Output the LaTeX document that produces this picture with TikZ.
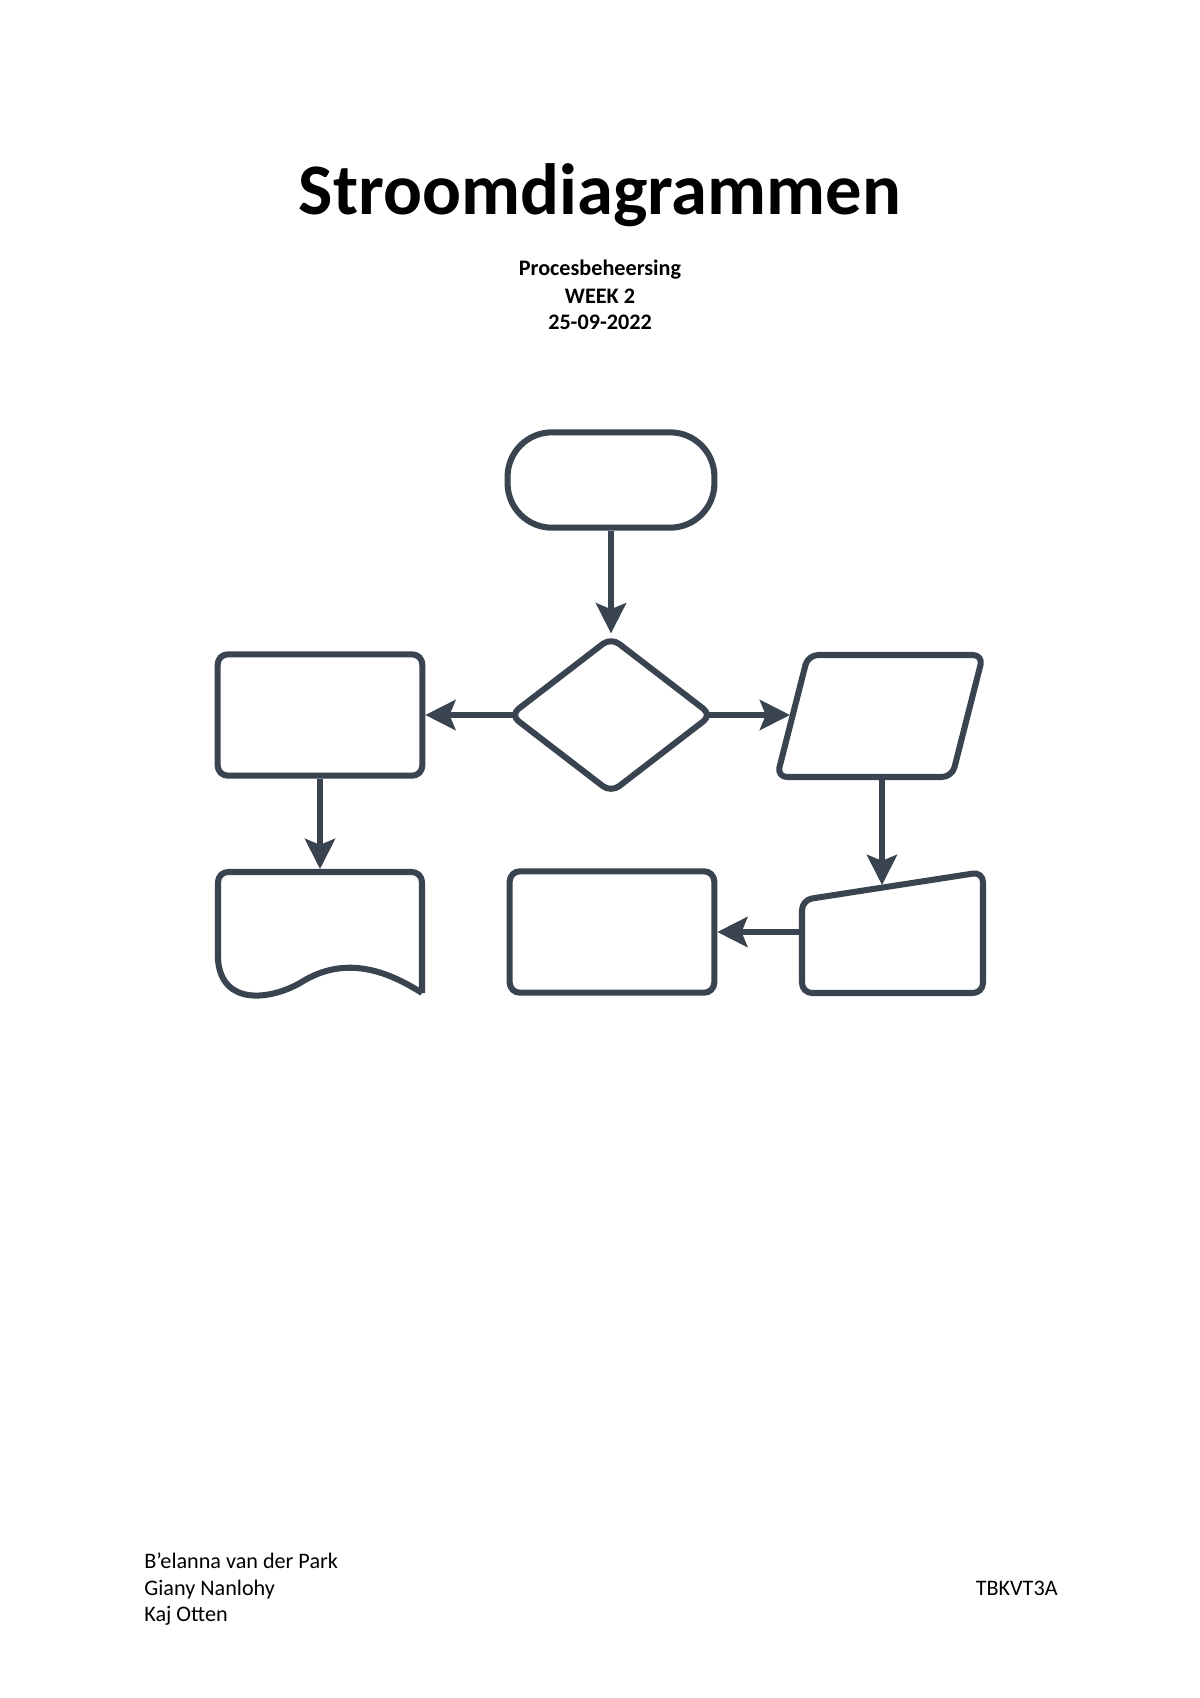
\documentclass[tikz,border=0pt]{standalone}
\usepackage{fontspec}
\setmainfont{Carlito}
\usetikzlibrary{arrows.meta,shapes.geometric}
\definecolor{slate}{HTML}{3A4450}

\begin{document}
\begin{tikzpicture}[
  x=0.49607pt, y=-0.49607pt,
  outline/.style={draw=slate, line width=3pt, line join=round},
  terminal/.style={outline, rectangle, rounded corners=22pt, minimum width=102.6pt, minimum height=47.3pt, inner sep=0pt},
  decision/.style={outline, diamond, rounded corners=5pt, minimum width=101pt, minimum height=78pt, inner sep=0pt},
  process/.style={outline, rectangle, rounded corners=5pt, minimum width=101.5pt, minimum height=60.2pt, inner sep=0pt},
  arrow/.style={-{Stealth[length=15pt, width=15pt, inset=3pt]}, draw=slate, line width=2.5pt},
  heading/.style={font=\bfseries\fontsize{36}{43}\selectfont, inner sep=0pt, anchor=base},
  subheading/.style={font=\bfseries\fontsize{11}{13}\selectfont, inner sep=0pt, anchor=base},
  footer/.style={font=\fontsize{11}{13}\selectfont, inner sep=0pt, anchor=base west}
]
\useasboundingbox (0,0) rectangle (1200,1698);

% --- TITLE BLOCK ---
\node[heading] (title) at (600,214) {Stroomdiagrammen};
\node[subheading] (course) at (600,275) {Procesbeheersing};
\node[subheading] (week) at (600,303) {WEEK 2};
\node[subheading] (date) at (600,329) {25-09-2022};

% --- FLOWCHART SHAPES ---

% Start, decision and process boxes
\node[terminal] (start) at (611,480) {};
\node[decision] (dec) at (611,715) {};
\node[process] (proc) at (320,715) {};
\node[process] (pred) at (612,932) {};

% Data (parallelogram)
\draw[outline, rounded corners=5pt] (808,655) -- (983,655) -- (952,777) -- (777,777) -- cycle;
\coordinate (io-in) at (790,715);
\coordinate (io-out) at (882,778);

% Manual input
\draw[outline, rounded corners=5pt] (802,900) -- (983,872) -- (983,993) -- (802,993) -- cycle;
\coordinate (inp-in) at (882,885);
\coordinate (inp-out) at (803,932);

% Document (wavy bottom)
\draw[outline, rounded corners=5pt] (218,962) -- (218,872) -- (422,872) -- (422,993);
\draw[outline] (218,960) .. controls (222,1006) and (270,1000) .. (300,983)
  .. controls (330,964) and (368,958) .. (422,993);
\coordinate (doc-in) at (320,869);

% --- CONNECTORS ---
\draw[arrow] (start.south) -- (dec.north);
\draw[arrow, shorten <=-4pt] (dec.west) -- (proc.east);
\draw[arrow, shorten <=-4pt] (dec.east) -- (io-in);
\draw[arrow] (proc.south) -- (doc-in);
\draw[arrow] (io-out) -- (inp-in);
\draw[arrow] (inp-out) -- (pred.east);

% --- FOOTER ---
\node[footer] (name1) at (144,1568) {B’elanna van der Park};
\node[footer] (name2) at (144,1595) {Giany Nanlohy};
\node[footer] (name3) at (144,1621) {Kaj Otten};
\node[footer, anchor=base east] (group) at (1058,1595) {TBKVT3A};

\end{tikzpicture}
\end{document}
